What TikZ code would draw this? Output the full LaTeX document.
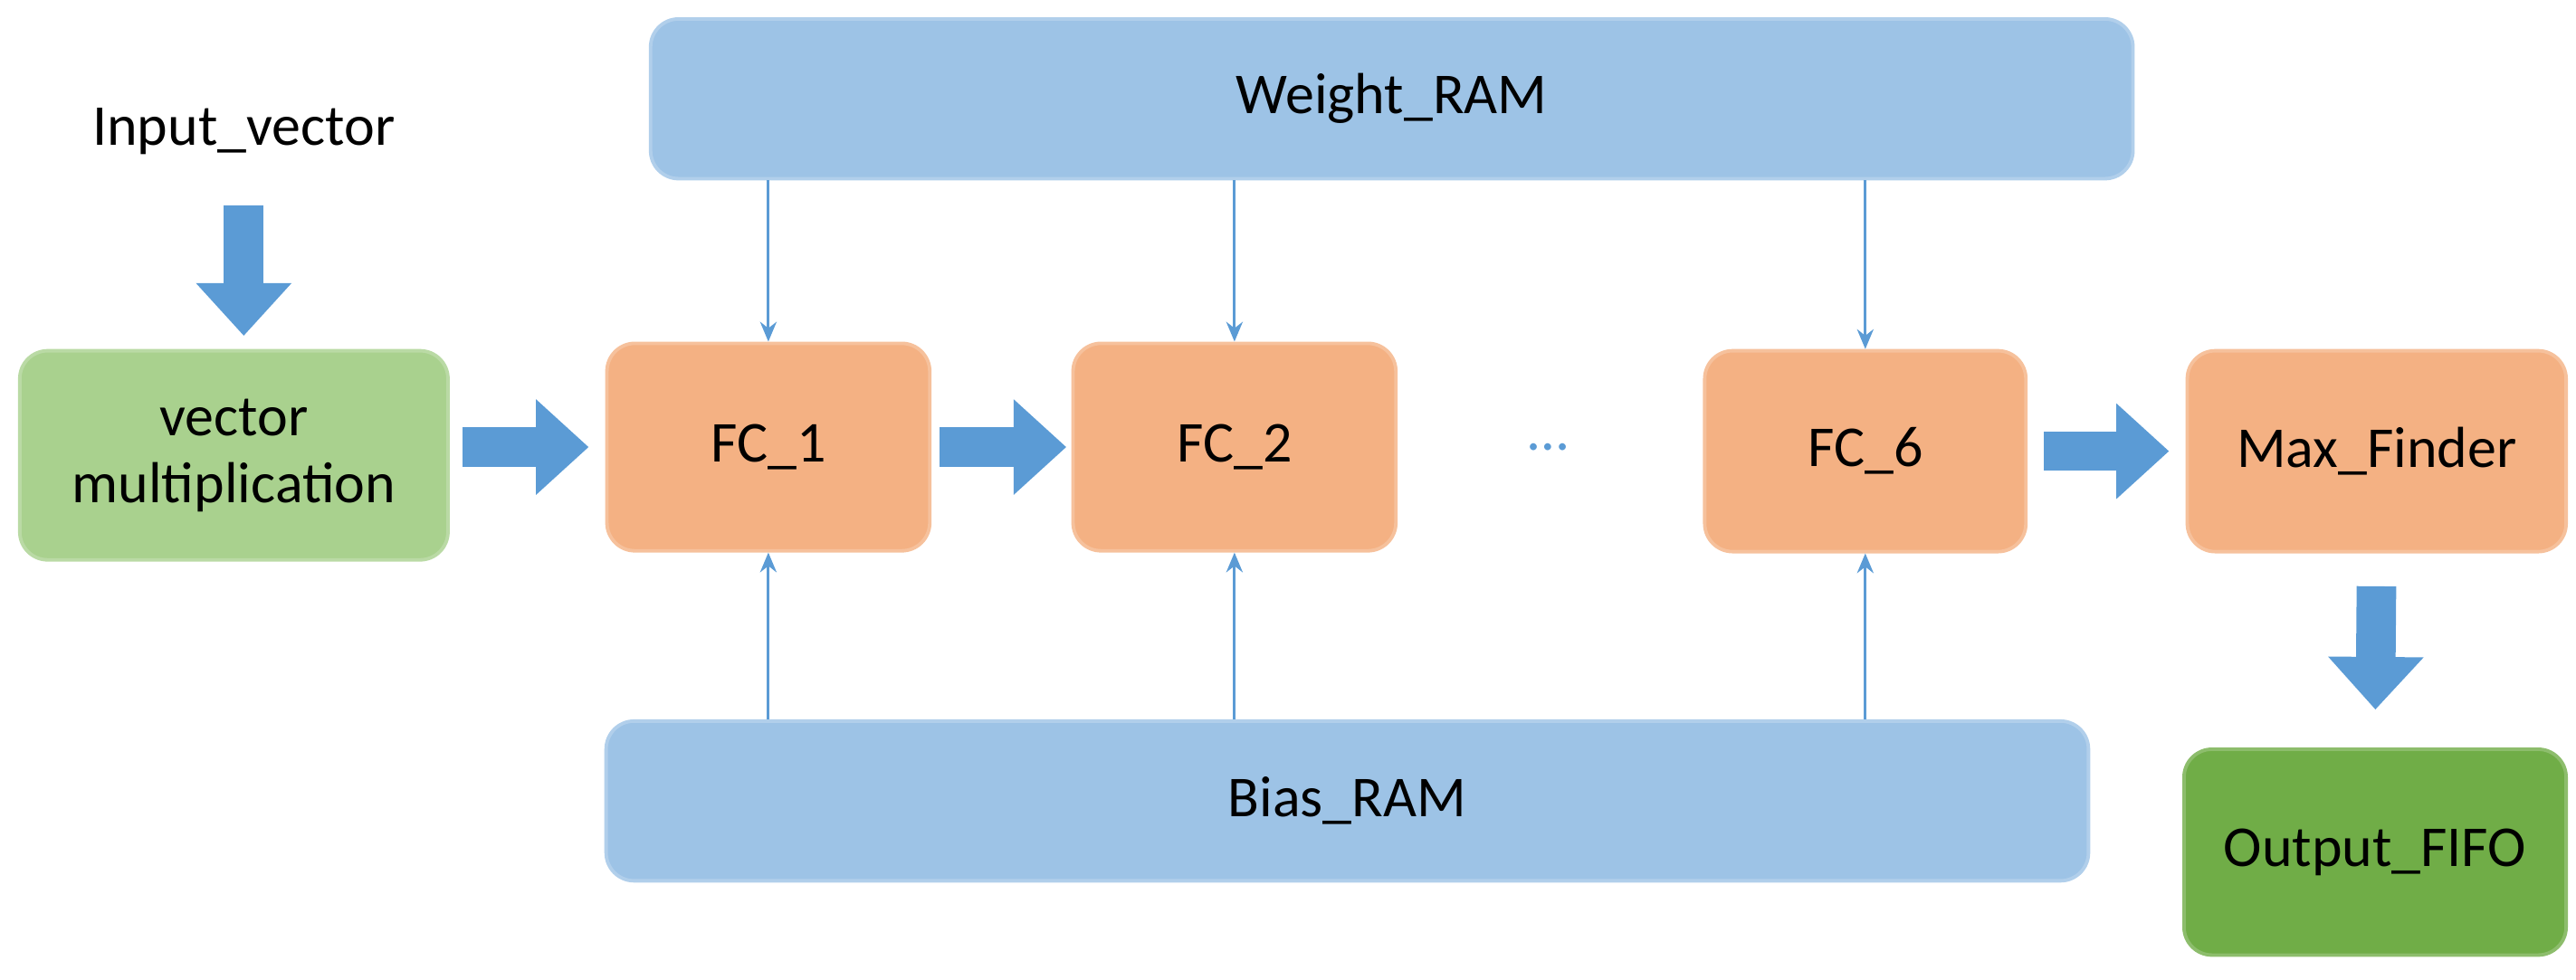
\documentclass[tikz,border=0pt]{standalone}
\usepackage{fontspec}
\setmainfont{Carlito}
\usetikzlibrary{arrows.meta,positioning}
\definecolor{ramblue}{HTML}{9DC3E6}
\definecolor{fcorange}{HTML}{F4B183}
\definecolor{lightgreen}{HTML}{A9D18E}
\definecolor{darkgreen}{HTML}{70AD47}
\definecolor{arrowblue}{HTML}{5B9BD5}

\begin{document}
\begin{tikzpicture}
  [block/.style={rounded corners=0.17cm, draw=#1!80!white, fill=#1, line width=0.6pt,
     font=\fontsize{10}{11.5}\selectfont, align=center},
   fc/.style={block=fcorange, minimum width=1.96cm, minimum height=1.26cm},
   ram/.style={block=ramblue, minimum width=9cm, minimum height=0.97cm},
   bigarrow/.style={draw=arrowblue, line width=0.24cm, -{Triangle[length=0.32cm,width=0.56cm]}},
   thin/.style={draw=arrowblue, line width=0.5pt, -{Stealth[length=0.12cm,width=0.1cm]}}]

\useasboundingbox (0,0) rectangle (15.64,5.947);

% memories
\node [ram] (W) at (8.45,5.347) {Weight\_RAM};
\node [ram] (B) at (8.18,1.083) {Bias\_RAM};

% processing chain
\node [block=lightgreen, minimum width=2.6cm, minimum height=1.27cm] (VM) at (1.42,3.182) {vector\\multiplication};
\node [fc] (FC1) at (4.665,3.232) {FC\_1};
\node [fc] (FC2) at (7.495,3.232) {FC\_2};
\node [fc, minimum width=1.95cm, minimum height=1.22cm] (FC6) at (11.325,3.207) {FC\_6};
\node [block=fcorange, minimum width=2.3cm, minimum height=1.22cm] (MF) at (14.43,3.207) {Max\_Finder};
\node [block=darkgreen, minimum width=2.32cm, minimum height=1.25cm] (OF) at (14.42,0.772) {Output\_FIFO};
\node [text=arrowblue, font=\fontsize{10}{11.5}\selectfont] (D) at (9.4,3.232) {\dots};
\node [font=\fontsize{10}{11.5}\selectfont, inner sep=0pt] (IN) at (1.48,5.147) {Input\_vector};

% data flow
\draw [bigarrow, shorten <=0.3cm, shorten >=0.08cm] (IN.south) -- (IN.south |- VM.north);
\draw [bigarrow, shorten <=0.08cm, shorten >=0.1cm] (VM.east |- FC1) -- (FC1.west);
\draw [bigarrow, shorten <=0.05cm, shorten >=0.03cm] (FC1.east) -- (FC2.west);
\draw [bigarrow, shorten <=0.1cm, shorten >=0.1cm] (FC6.east) -- (MF.west);
\draw [bigarrow, shorten <=0.2cm, shorten >=0.23cm] (MF.south) -- (OF.north);

% parameters
\draw [thin] (W.south -| FC1) -- (FC1.north);
\draw [thin] (W.south -| FC2) -- (FC2.north);
\draw [thin] (W.south -| FC6) -- (FC6.north);
\draw [thin] (B.north -| FC1) -- (FC1.south);
\draw [thin] (B.north -| FC2) -- (FC2.south);
\draw [thin] (B.north -| FC6) -- (FC6.south);
\end{tikzpicture}
\end{document}
